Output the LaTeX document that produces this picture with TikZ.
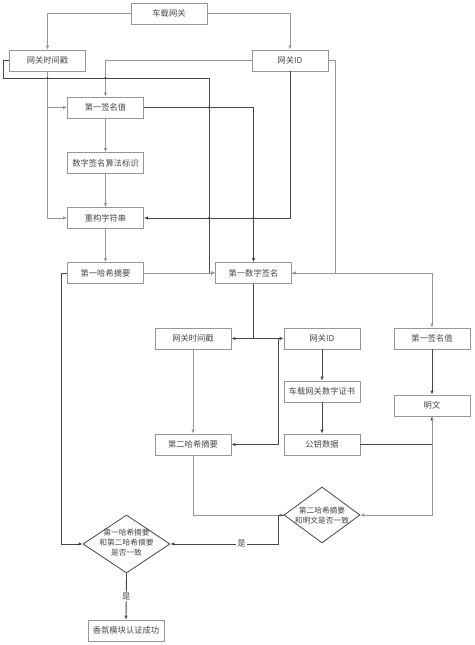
\documentclass[tikz,border=0pt]{standalone}
\usepackage{fontspec}
\newfontfamily\cjk{Noto Sans CJK SC}
\usetikzlibrary{arrows.meta,shapes.geometric}
\definecolor{boxc}{RGB}{150,150,150}
\definecolor{txtc}{RGB}{70,70,70}
\definecolor{lnl}{RGB}{150,150,150}
\definecolor{lnd}{RGB}{70,70,70}
\tikzset{
  box/.style={draw=boxc,line width=0.6pt,minimum width=57pt,minimum height=15.75pt,inner sep=0pt,
    font=\cjk\fontsize{6.2}{7.5}\selectfont,text=txtc},
  dia/.style={draw=lnd,line width=0.6pt,shape=diamond,inner sep=0pt},
  dtext/.style={font=\cjk\fontsize{5.8}{7.5}\selectfont,text=txtc,align=center,inner sep=0pt},
  lt/.style={draw=lnl,line width=0.6pt},
  dk/.style={draw=lnd,line width=0.65pt},
  arr/.style={-{Latex[length=3pt,width=2.6pt]}},
  lab/.style={font=\cjk\fontsize{6.2}{7.5}\selectfont,text=txtc,fill=white,inner sep=1pt},
  jdot/.style={fill=lnd}
}
\begin{document}
\begin{tikzpicture}[x=0.75pt,y=-0.75pt]
\useasboundingbox (0,0) rectangle (474,645);
% nodes
\node[box] (gw) at (169,13.5) {车载网关};
\node[box] (ts1) at (47.5,60.5) {网关时间戳};
\node[box] (id1) at (290,60.5) {网关ID};
\node[box] (sig1) at (105.5,107.5) {第一签名值};
\node[box] (alg) at (105.5,163) {数字签名算法标识};
\node[box] (rec) at (105.5,218) {重构字符串};
\node[box] (h1) at (105.5,273) {第一哈希摘要};
\node[box] (ds1) at (253.5,273) {第一数字签名};
\node[box] (ts2) at (193,338.5) {网关时间戳};
\node[box] (id2) at (322,338.5) {网关ID};
\node[box] (sig2) at (432,338.5) {第一签名值};
\node[box] (cert) at (322,391.5) {车载网关数字证书};
\node[box] (pt) at (432,405.5) {明文};
\node[box] (h2) at (193,444.5) {第二哈希摘要};
\node[box] (pk) at (322,444.5) {公钥数据};
\node[dia,minimum width=57pt,minimum height=42pt] (d2) at (322,515) {};
\node[dtext] (d2t) at (322,516) {第二哈希摘要\\和明文是否一致};
\node[dia,minimum width=65.25pt,minimum height=43.5pt] (d1) at (126.5,544) {};
\node[dtext] (d1t) at (126.5,543) {第一哈希摘要\\和第二哈希摘要\\是否一致};
\node[box] (ok) at (126,630.5) {香氛模块认证成功};
% helper coordinates
\coordinate (c3a) at (3,78);
\coordinate (c3b) at (209,78);
\coordinate (c7) at (335,60.5);
\coordinate (c13) at (61,273);
\coordinate (c15) at (278,338.5);
\coordinate (c22) at (278,515);
% connectors
\draw[lt,arr] (gw.west) -| (ts1.north);
\draw[lt,arr] (gw.east) -| (id1.north);
\draw[dk,arr] (ts1.west) -| (c3a) -- (c3b) |- (ds1.west);
\draw[lt,arr] (ts1.south) |- (sig1.west);
\draw[lt,arr] (ts1.south) |- (rec.west);
\draw[lt,arr] (id1.west) -| (sig1.north);
\draw[dk,arr] (id1.south) |- (rec.east);
\draw[lt,arr] (id1.east) -- (c7) |- (ds1.east);
\draw[dk,arr] (sig1.east) -| (ds1.north);
\draw[lt,arr] (sig1) -- (alg);
\draw[lt,arr] (alg) -- (rec);
\draw[lt,arr] (rec) -- (h1);
\draw[lt,arr] (h1.east) -- (ds1.west);
\draw[dk,arr] (h1.west) -- (c13) |- (d1.west);
\draw[lt,arr] (ds1.east) -| (sig2.north);
\draw[dk,arr] (ds1.south) |- (ts2.east);
\draw[dk,arr] (ds1.south) |- (id2.west);
\draw[dk,arr] (c15) |- (h2.east);
\draw[lt,arr] (ts2) -- (h2);
\draw[dk,arr] (id2) -- (cert);
\draw[dk,arr] (cert) -- (pk);
\draw[dk,arr] (sig2) -- (pt);
\draw[dk,arr] (pk.east) -| (pt.south);
\draw[lt,arr] (pt.south) |- (d2.east);
\draw[lt,arr] (h2.south) |- (d2.west);
\draw[dk,arr] (d2.west) -- (c22) |- node[lab,pos=0.67] {是} (d1.east);
\draw[dk,arr] (d1.south) -- node[lab] {是} (ok.north);
% junction dots
\fill[jdot] (47.5,78) circle (1.1);
\fill[jdot] (105.5,78) circle (1.1);
\fill[jdot] (209,107.5) circle (1.1);
\fill[jdot] (209,218) circle (1.1);
\fill[jdot] (253.5,218) circle (1.1);
\end{tikzpicture}
\end{document}
